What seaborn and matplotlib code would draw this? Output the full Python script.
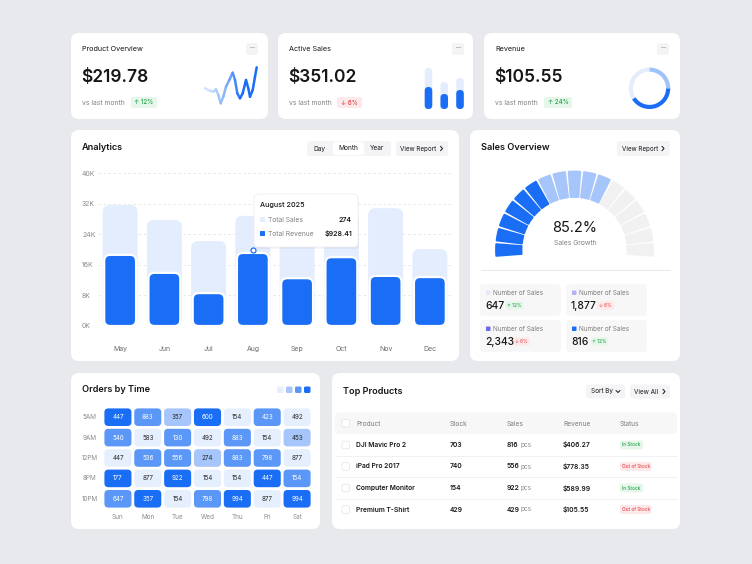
import numpy as np
import matplotlib
matplotlib.use('Agg')
import matplotlib.pyplot as plt
import seaborn as sns
from matplotlib.patches import FancyBboxPatch, Wedge
from matplotlib.colors import ListedColormap, LinearSegmentedColormap

# ---------------- data ----------------
# top cards
kpi_titles = ['Product Overview', 'Active Sales', 'Revenue']
kpi_values = ['$219.78', '$351.02', '$105.55']
kpi_changes = ['↑ 12%', '↓ 6%', '↑ 24%']
kpi_up = [True, False, True]

spark_x = [0, 5, 8.3, 11, 13.3, 15.7, 18.3, 21, 24.3, 27.7, 30, 32.3, 35, 37.7, 41, 43.3, 45, 47.7, 50, 51.7]
spark_y = [19.7, 17.3, 16.3, 18.7, 13, 4.7, 11.3, 21.3, 28, 35.3, 28, 14.7, 9.7, 14.7, 28, 19.7, 11.3, 18, 31.3, 40.7]

mini_track = [41, 27, 31]
mini_fill = [22, 15, 19]

donut_parts = [41, 34, 25]

# analytics
months = ['May', 'Jun', 'Jul', 'Aug', 'Sep', 'Oct', 'Nov', 'Dec']
total_sales = [31600, 27700, 22200, 28800, 24500, 29000, 30800, 20100]
total_revenue = [18600, 13900, 8600, 19100, 12500, 18000, 13100, 12800]
y_ticks = [0, 8000, 16000, 24000, 32000, 40000]
y_tick_labels = ['0K', '8K', '16K', '24K', '32K', '40K']

# sales overview gauge: filled / partial / empty segments
gauge_counts = [6, 5, 6]
stat_values = ['647', '1,877', '2,343', '816']
stat_changes = ['↑ 12%', '↓ 6%', '↓ 6%', '↑ 12%']
stat_up = [True, False, False, True]
stat_colors = ['#e6e6fa', '#b4b1f6', '#6c66ea', '#1a6ef5']

# orders by time
hours = ['5AM', '9AM', '12PM', '8PM', '10PM']
days = ['Sun', 'Mon', 'Tue', 'Wed', 'Thu', 'Fri', 'Sat']
orders = [[447, 883, 357, 600, 154, 423, 492],
          [540, 583, 130, 492, 883, 154, 453],
          [447, 536, 556, 274, 883, 798, 877],
          [177, 877, 922, 154, 154, 447, 154],
          [647, 357, 154, 798, 994, 877, 994]]
order_level = [[3, 2, 1, 3, 0, 2, 0],
               [2, 0, 2, 0, 2, 0, 1],
               [0, 2, 2, 1, 2, 2, 0],
               [3, 0, 3, 0, 0, 3, 2],
               [2, 3, 0, 2, 3, 0, 3]]
level_colors = ['#e6effd', '#a6c5fa', '#5b97f6', '#1a6ef5']

# top products
products = ['DJI Mavic Pro 2', 'iPad Pro 2017', 'Computer Monitor', 'Premium T-Shirt']
stock = [703, 740, 154, 429]
sales = [816, 556, 922, 429]
revenue = ['$406.27', '$778.35', '$589.99', '$105.55']
status = ['In Stock', 'Out of Stock', 'In Stock', 'Out of Stock']

# ---------------- style ----------------
sns.set_style('white')
plt.rcParams['font.family'] = ['Inter', 'DejaVu Sans']

BLUE = '#1a6ef5'
DARK = '#161616'
GREY = '#808080'

W, H = 752, 564
fig = plt.figure(figsize=(W / 100, H / 100), dpi=100)
fig.patch.set_facecolor('#e8e9ed')


def px_axes(x0, y0, x1, y1, z=1):
    a = fig.add_axes([x0 / W, 1 - y1 / H, (x1 - x0) / W, (y1 - y0) / H])
    a.set_zorder(z)
    a.patch.set_alpha(0)
    return a


bg = px_axes(0, 0, W, H, z=0)
bg.set_xlim(0, W)
bg.set_ylim(H, 0)
bg.axis('off')


def rbox(ax, x0, y0, x1, y1, r, fc, ec='none', lw=0, z=1):
    ax.add_patch(FancyBboxPatch((x0, y0), x1 - x0, y1 - y0,
                                boxstyle=f'round,pad=0,rounding_size={r}',
                                fc=fc, ec=ec, lw=lw, zorder=z))


def txt(x, y, s, size=5.5, color=DARK, weight='normal', ha='left', ax=bg, z=3):
    ax.text(x, y, s, fontsize=size, color=color, fontweight=weight,
            ha=ha, va='center', zorder=z)


def chevron(x, y, down=False, ax=bg):
    if down:
        ax.plot([x - 2, x, x + 2], [y - 1, y + 1, y - 1], color=DARK, lw=0.7, zorder=3)
    else:
        ax.plot([x - 1, x + 1, x - 1], [y - 2.2, y, y + 2.2], color=DARK, lw=0.7, zorder=3)


def badge(x0, x1, yc, s, up, size=4.6, h=5.5):
    fc, c = ('#e6f6ea', '#21a34a') if up else ('#fde9e9', '#e5484d')
    rbox(bg, x0, yc - h, x1, yc + h, 2, fc)
    txt((x0 + x1) / 2, yc, s, size=size, color=c, ha='center', weight='medium')


def round_patches(ax, patches, rpx, pxx, pxy, ec='none', lw=0):
    for p in list(patches):
        fb = FancyBboxPatch((p.get_x(), p.get_y()), p.get_width(), p.get_height(),
                            boxstyle=f'round,pad=0,rounding_size={rpx / pxx}',
                            mutation_aspect=pxx / pxy, fc=p.get_facecolor(),
                            ec=ec, lw=lw, zorder=p.get_zorder())
        p.remove()
        ax.add_patch(fb)


# ---------------- cards ----------------
cards = [(71, 33, 268, 119), (278, 33, 473, 119), (484, 33, 680, 119),
         (71, 130, 459, 361), (470, 130, 680, 361),
         (71, 373, 320, 529), (332, 373, 680, 529)]
for c in cards:
    rbox(bg, *c, 8, 'white', z=0.5)

# ---------------- KPI cards ----------------
kpi_left = [82, 289, 495]
dots_x = [246, 452, 657]
badge_x = [(131, 157), (337, 362), (544, 572)]
for i in range(3):
    x = kpi_left[i]
    txt(x, 49, kpi_titles[i], size=5.2)
    rbox(bg, dots_x[i], 43, dots_x[i] + 12, 55, 2.5, '#f4f4f6')
    txt(dots_x[i] + 6, 48.5, '···', size=5, color='#555555', ha='center')
    txt(x - 0.5, 78, kpi_values[i], size=12.5, weight='semibold')
    txt(x, 103, 'vs last month', size=4.9, color=GREY)
    badge(badge_x[i][0], badge_x[i][1], 102.5, kpi_changes[i], kpi_up[i], size=4.4)

# sparkline
ax_sp = px_axes(203, 64, 259, 110)
ax_sp.axis('off')
ax_sp.set_xlim(-2, 54)
ax_sp.set_ylim(-2, 44)
spark_cmap = LinearSegmentedColormap.from_list('sp', ['#d3e3fd', '#8db6f9', BLUE, BLUE])
for k in range(len(spark_x) - 1):
    ax_sp.plot(spark_x[k:k + 2], spark_y[k:k + 2], color=spark_cmap(k / (len(spark_x) - 2)),
               lw=1.8, solid_capstyle='round')

# mini bars
ax_mb = px_axes(420.6, 64, 467.9, 109)
sns.barplot(x=[0, 1, 2], y=mini_track, color='#e3edfd', saturation=1, width=0.48, ax=ax_mb)
sns.barplot(x=[0, 1, 2], y=mini_fill, color=BLUE, saturation=1, width=0.48, ax=ax_mb)
ax_mb.set_xlim(-0.5, 2.5)
ax_mb.set_ylim(0, 45)
round_patches(ax_mb, ax_mb.patches, 3.7, 15.77, 1.0)
ax_mb.axis('off')

# donut
ax_dn = px_axes(626.7, 65.5, 672.3, 111.1)
ax_dn.pie(donut_parts, colors=[BLUE, '#e3edfd', '#9fc2fa'], startangle=0,
          counterclock=False, wedgeprops=dict(width=0.2, lw=0))
ax_dn.set_xlim(-1.1, 1.1)
ax_dn.set_ylim(-1.1, 1.1)
ax_dn.set_aspect('equal')

# ---------------- Analytics ----------------
txt(82, 148, 'Analytics', size=6.6, weight='semibold')
rbox(bg, 307, 141, 391, 156, 3, '#f4f4f6')
rbox(bg, 333, 142, 364, 155, 2.5, 'white')
txt(319.5, 148.5, 'Day', size=4.7, ha='center')
txt(348.5, 148.5, 'Month', size=4.7, ha='center')
txt(377.5, 148.5, 'Year', size=4.7, ha='center')
rbox(bg, 396, 141, 448, 156, 3, '#f4f4f6')
txt(400, 148.5, 'View Report', size=4.5)
chevron(441.5, 148.5)

ax = px_axes(98, 173, 452, 326)
sns.barplot(x=months, y=total_sales, color='#e3edfd', saturation=1, width=0.79, ax=ax)
n = len(months)
sns.barplot(x=months, y=total_revenue, color=BLUE, saturation=1, width=0.72, ax=ax)
pxx = 354 / n
pxy = 153 / 40000
round_patches(ax, ax.patches[:n], 7, pxx, pxy)
round_patches(ax, ax.patches[:n], 6, pxx, pxy, ec='white', lw=1.6)
ax.set_xlim(-0.5, n - 0.5)
ax.set_ylim(0, 40000)
ax.set_yticks(y_ticks)
ax.set_yticklabels(y_tick_labels)
ax.yaxis.grid(True, ls=(0, (3, 3)), color='#e4e4e4', lw=0.6)
ax.set_axisbelow(True)
sns.despine(ax=ax, left=True, bottom=True)
ax.set_xlabel('')
ax.set_ylabel('')
ax.tick_params(axis='x', length=0, pad=14.5, labelsize=5, labelcolor='#6a6a6a')
ax.tick_params(axis='y', length=0, pad=11.5, labelsize=5, labelcolor='#8a8a8a')
for lab in ax.get_yticklabels():
    lab.set_ha('left')
ax.plot(3, total_revenue[3] + 900, 'o', ms=3.6, mfc='white', mec=BLUE, mew=0.9, zorder=6)

# tooltip
top = px_axes(0, 0, W, H, z=6)
top.set_xlim(0, W)
top.set_ylim(H, 0)
top.axis('off')
rbox(top, 255, 196, 359, 249, 4, '#000000', z=1)
top.patches[-1].set_alpha(0.035)
rbox(top, 254, 194, 358, 247, 4, 'white', ec='#ebebeb', lw=0.5, z=2)
txt(260, 205, 'August 2025', size=5.2, ax=top, weight='medium')
rbox(top, 260, 217, 265, 222, 0.8, '#e3edfd', z=3)
txt(268, 219.5, 'Total Sales', size=4.8, color=GREY, ax=top)
txt(352, 219.5, '274', size=5, ax=top, ha='right', weight='semibold')
rbox(top, 260, 231, 265, 236, 0.8, BLUE, z=3)
txt(268, 233.5, 'Total Revenue', size=4.8, color=GREY, ax=top)
txt(352, 233.5, '$928.41', size=5, ax=top, ha='right', weight='semibold')

# ---------------- Sales Overview ----------------
txt(481, 148, 'Sales Overview', size=6.6, weight='semibold')
rbox(bg, 617, 141, 670, 156, 3, '#f4f4f6')
txt(621.5, 148.5, 'View Report', size=4.5)
chevron(663, 148.5)

seg_colors = ([BLUE] * gauge_counts[0] + ['#a6c5fa'] * gauge_counts[1]
              + ['#f1f1f2'] * gauge_counts[2])
n_seg = len(seg_colors)
step = 180 / (n_seg - 1)
for k, col in enumerate(seg_colors):
    a = 180 + k * step
    bg.add_patch(Wedge((574.5, 250), 78.5, a - 4.3, a + 4.3, width=25.5, fc=col,
                       ec=col, lw=1.3, joinstyle='round', zorder=2))
txt(575, 228, '85.2%', size=10.5, ha='center')
txt(575, 243, 'Sales Growth', size=4.9, color=GREY, ha='center')
bg.plot([481, 670], [270, 270], color='#ececec', lw=0.8, zorder=2)

stat_boxes = [(480, 284), (566, 284), (480, 320), (566, 320)]
stat_badge_x = [(506, 523), (597, 614), (513, 530), (591, 608)]
for k, (bx, by) in enumerate(stat_boxes):
    rbox(bg, bx, by, bx + 81, by + 32, 4, '#f7f7f8')
    rbox(bg, bx + 6, by + 6.5, bx + 10.5, by + 11, 0.8, stat_colors[k], z=2)
    txt(bx + 13, by + 8.8, 'Number of Sales', size=4.6, color='#7c7c7c')
    txt(bx + 5, by + 22, stat_values[k], size=7.4, weight='medium')
    badge(stat_badge_x[k][0], stat_badge_x[k][1], by + 21.5, stat_changes[k], stat_up[k],
          size=3.3, h=4.2)

# ---------------- Orders by Time ----------------
txt(82, 390, 'Orders by Time', size=6.6, weight='semibold')
for k, col in enumerate(level_colors):
    rbox(bg, 277 + 9 * k, 386.5, 283.5 + 9 * k, 393, 1.5, col)

ax_h = px_axes(103, 407, 312, 509)
sns.heatmap(np.array(order_level), annot=np.array(orders), fmt='d',
            cmap=ListedColormap(level_colors), vmin=-0.5, vmax=3.5, cbar=False,
            xticklabels=days, yticklabels=hours, ax=ax_h,
            annot_kws=dict(fontsize=4.5))
mesh = ax_h.collections[0]
cell_cols = mesh.to_rgba(np.array(order_level, dtype=float)).reshape(-1, 4)
mesh.set_visible(False)
hx = 209 / len(days)
hy = 102 / len(hours)
gx, gy = 1.4 / hx, 1.4 / hy
for j in range(len(hours)):
    for i in range(len(days)):
        ax_h.add_patch(FancyBboxPatch((i + gx, j + gy), 1 - 2 * gx, 1 - 2 * gy,
                                      boxstyle=f'round,pad=0,rounding_size={4 / hx}',
                                      mutation_aspect=hx / hy,
                                      fc=cell_cols[j * len(days) + i], ec='none', zorder=1))
for t in ax_h.texts:
    t.set_zorder(3)
ax_h.tick_params(axis='y', length=0, pad=15, labelsize=4.6, labelcolor='#8a8a8a')
ax_h.tick_params(axis='x', length=0, pad=3.5, labelsize=4.6, labelcolor='#8a8a8a')
plt.setp(ax_h.get_yticklabels(), rotation=0, ha='left')
plt.setp(ax_h.get_xticklabels(), rotation=0)
ax_h.set_xlabel('')
ax_h.set_ylabel('')

# ---------------- Top Products ----------------
txt(343, 391, 'Top Products', size=6.6, weight='semibold')
rbox(bg, 586, 384.5, 625, 398.5, 3, '#f4f4f6')
txt(591, 391.5, 'Sort By', size=4.6)
chevron(618, 391.5, down=True)
rbox(bg, 630, 384.5, 670, 398.5, 3, '#f4f4f6')
txt(634, 391.5, 'View All', size=4.6)
chevron(664, 391.5)

rbox(bg, 335, 412.5, 677, 434, 4, '#f7f7f8')
col_x = [356, 450, 507, 563, 620]
for cx, name in zip(col_x, ['Product', 'Stock', 'Sales', 'Revenue', 'Status']):
    txt(cx, 423.5, name, size=4.7, color='#7a7a7a')
rbox(bg, 342, 419.5, 349.5, 427, 1.5, 'white', ec='#e2e2e2', lw=0.5, z=2)

row_y = [445, 466.5, 488, 509.5]
for r, yy in enumerate(row_y):
    rbox(bg, 342, yy - 3.8, 349.5, yy + 3.8, 1.5, 'white', ec='#e2e2e2', lw=0.5, z=2)
    txt(356, yy, products[r], size=4.8, weight='semibold')
    txt(450, yy, str(stock[r]), size=4.8, weight='semibold')
    txt(507, yy, str(sales[r]), size=4.8, weight='semibold')
    txt(520.5, yy, 'pcs', size=4.6, color='#8a8a8a')
    txt(563, yy, revenue[r], size=4.8, weight='semibold')
    ok = status[r] == 'In Stock'
    badge(620, 643 if ok else 651.5, yy, status[r], ok, size=3.4, h=4.5)
    if r < len(row_y) - 1:
        bg.plot([335, 677], [yy + 10.7, yy + 10.7], color='#efefef', lw=0.6, zorder=2)

fig.savefig('out.png', dpi=100, facecolor=fig.get_facecolor())
